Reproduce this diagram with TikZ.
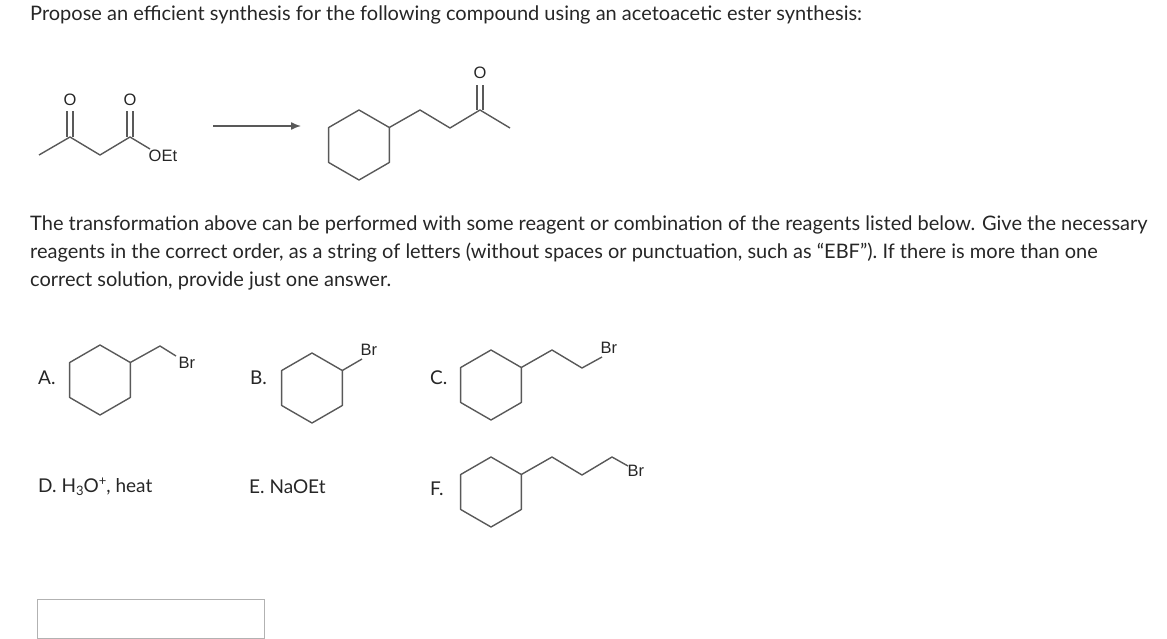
\documentclass[tikz,border=0pt]{standalone}
\usepackage{fontspec}
\usetikzlibrary{arrows.meta}
\setmainfont{Lato}
\newfontfamily\chemfont{Liberation Sans}
\begin{document}
\begin{tikzpicture}[x=1pt,y=-1pt,
  bond/.style={draw=black!65,line width=1.4pt,line join=round},
  txt/.style={anchor=west,inner sep=0pt,font=\fontsize{20}{24}\selectfont,text=black!85},
  atom/.style={inner sep=0.5pt,font=\chemfont\fontsize{16.5}{18}\selectfont,text=black!85},
  lab/.style={anchor=west,inner sep=0pt,font=\fontsize{19}{22}\selectfont,text=black!85}]
\useasboundingbox (0,0) rectangle (1167,639);
\newcommand{\hexring}[3]{\draw[bond] (#1,#2) -- ++(0.866*#3,0.5*#3) -- ++(0,#3) -- ++(-0.866*#3,0.5*#3) -- ++(-0.866*#3,-0.5*#3) -- ++(0,-#3) -- cycle;}
% texts
\node[txt] (t1) at (30,15) {Propose an efficient synthesis for the following compound using an acetoacetic ester synthesis:};
\node[txt] (t2) at (30,225) {The transformation above can be performed with some reagent or combination of the reagents listed below. Give the necessary};
\node[txt] (t3) at (30,253) {reagents in the correct order, as a string of letters (without spaces or punctuation, such as “EBF”). If there is more than one};
\node[txt] (t4) at (30,281) {correct solution, provide just one answer.};
% acetoacetic ester
\draw[bond] (39,155) -- (70,137) -- (100,155) -- (130,137) -- (150,149);
\draw[bond] (67,137) -- (67,111); \draw[bond] (73,137) -- (73,111);
\draw[bond] (127,137) -- (127,111); \draw[bond] (133,137) -- (133,111);
\node[atom] (o1) at (70,100) {O};
\node[atom] (o2) at (130,100) {O};
\node[atom,anchor=west] (oet) at (148,156) {OEt};
% arrow
\coordinate (a1) at (213,126); \coordinate (a2) at (301,126);
\draw[draw=black!65,line width=1.4pt,-{Latex[length=10pt,width=8pt]}] (a1) -- (a2);
% product
\hexring{359}{110}{35}
\draw[bond] (389.3,127.5) -- (420,110) -- (450,128) -- (480,110) -- (510,128);
\draw[bond] (477,110) -- (477,85); \draw[bond] (483,110) -- (483,85);
\node[atom] (o3) at (480,73) {O};
% reagents
\node[lab] (la) at (38,378) {A.};
\hexring{100}{345}{35}
\draw[bond] (130.3,362.5) -- (160,346) -- (176,356);
\node[atom,anchor=west] (bra) at (178,363) {Br};
\node[lab] (lb) at (250,378) {B.};
\hexring{312}{353}{35}
\draw[bond] (342.3,370.5) -- (362,359);
\node[atom,anchor=west] (brb) at (360,350) {Br};
\node[lab] (lc) at (430,378) {C.};
\hexring{491}{350}{35}
\draw[bond] (521.3,367.5) -- (552,350) -- (582,368) -- (602,357);
\node[atom,anchor=west] (brc) at (600,348) {Br};
\node[lab] (ld) at (38,487) {D. H\raisebox{-0.3ex}{\fontsize{13}{13}\selectfont 3}O\raisebox{0.7ex}{\fontsize{13}{13}\selectfont +}, heat};
\node[lab] (le) at (249,487) {E. NaOEt};
\node[lab] (lf) at (430,489) {F.};
\hexring{491}{457}{35}
\draw[bond] (521.3,474.5) -- (552,457) -- (582,475) -- (612,457) -- (628,466);
\node[atom,anchor=west] (brf) at (627,471) {Br};
% answer box
\draw[draw=black!30,line width=1pt] (37,599) rectangle (264,638);
\end{tikzpicture}
\end{document}
